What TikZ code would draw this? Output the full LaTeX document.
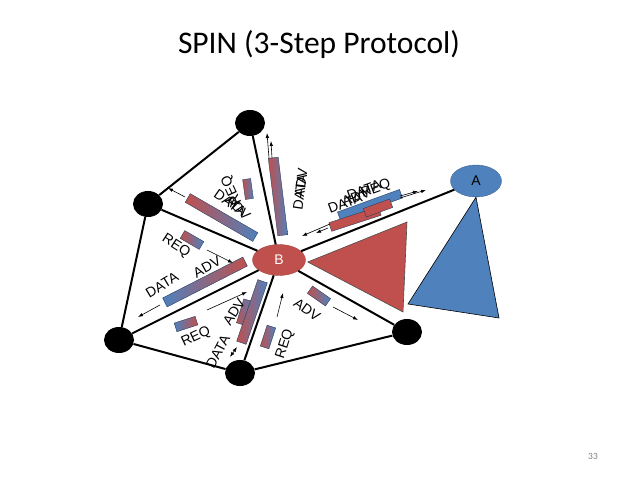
\documentclass[tikz,border=0pt]{standalone}
\usepackage{fontspec}
\setmainfont{Carlito}
\newfontfamily\arialfont{Liberation Sans}
\usetikzlibrary{positioning, shapes, arrows.meta}

\definecolor{spinred}{HTML}{C0504D}
\definecolor{spinblue}{HTML}{4F81BD}

\tikzset{
  sensor/.style={ellipse, fill=black, minimum width=30pt, minimum height=26pt, inner sep=0pt},
  hub/.style={ellipse, minimum width=53pt, minimum height=31pt, inner sep=0pt, font=\arialfont\fontsize{14}{14}\selectfont},
  link/.style={line width=2pt},
  msgbar/.style={rectangle, draw=spinblue!50!black, line width=0.4pt, inner sep=0pt, minimum height=9pt, left color=spinred, right color=spinblue},
  revbar/.style={msgbar, left color=spinblue, right color=spinred},
  pkt/.style={rectangle, draw=spinblue!50!black, line width=0.4pt, inner sep=0pt, minimum height=9pt},
  msg/.style={font=\arialfont\fontsize{14}{14}\selectfont, inner sep=0pt},
  flow/.style={-{Latex[length=5pt,width=3.5pt]}, line width=0.6pt}
}

\begin{document}
\begin{tikzpicture}[x=1pt,y=-1pt]

\useasboundingbox (0,0) rectangle (638,478);

\node (title) at (319,54) [anchor=base, font=\fontsize{31.5}{31.5}\selectfont] {SPIN (3-Step Protocol)};
\node (pageno) at (593,460) [anchor=base, text=gray, font=\fontsize{9.5}{9.5}\selectfont] {33};

% nodes
\node (top) at (250,123) [sensor] {};
\node (nw) at (148,204) [sensor] {};
\node (sw) at (119,340) [sensor] {};
\node (bot) at (240,373) [sensor] {};
\node (se) at (407,332) [sensor] {};
\node (B) at (279,260) [hub, fill=spinred, draw=spinred!85!black, text=white] {B};
\node (A) at (476,181) [hub, minimum width=51pt, minimum height=32pt, fill=spinblue, draw=spinblue!80!black] {A};

% links
\draw [link] (B) -- (top);
\draw [link] (B) -- (nw);
\draw [link] (B) -- (sw);
\draw [link] (B) -- (bot);
\draw [link] (B) -- (se);
\draw [link] (B) -- (A);
\draw [link] (top) -- (nw);
\draw [link] (nw) -- (sw);
\draw [link] (sw) -- (bot);
\draw [link] (bot) -- (se);

% triangles
\draw [fill=spinred, draw=black!70, line width=0.6pt] ([shift={(2,2)}]B.east) -- (407,222) -- (403,312) -- cycle;
\draw [fill=spinblue, draw=black, line width=0.6pt] (A.south) -- (408,304) -- (499,318) -- cycle;

% upper left
\node (datUL) at (221.5,217.5) [msgbar, minimum width=78pt, minimum height=10pt, rotate=-30] {};
\node (reqUL) at (248,189) [msgbar, minimum width=20pt, minimum height=8pt, rotate=-82] {};
\node (tDataUL) at (230,203) [msg, rotate=-35] {DATA};
\node (tAdvUL) at (238,208) [msg, rotate=-45] {ADV};
\node (tReqUL) at (232,190) [msg, rotate=115] {REQ};
\draw [flow] (185,197) -- (168,188);

% upper
\node (datT) at (278,196.5) [msgbar, minimum width=78pt, minimum height=10pt, rotate=-83] {};
\node (tDataT) at (300,192) [msg, rotate=82] {DATA};
\node (tAdvT) at (301,183) [msg, rotate=82] {ADV};
\draw [flow] (269,158) -- (267,133);
\draw [flow] (272,158) -- (271,141);

% towards A
\node (pktB1) at (370,205) [pkt, fill=spinblue, minimum width=66pt, rotate=20] {};
\node (pktR1) at (355,219) [pkt, fill=spinred, minimum width=52pt, rotate=18] {};
\node (pktR2) at (378,208) [pkt, fill=spinred, minimum width=28pt, rotate=20] {};
\node (tDataA1) at (364,190) [msg, rotate=20] {DATA};
\node (tReqA) at (376,189) [msg, rotate=20] {REQ};
\node (tAdvA) at (356,197) [msg, rotate=20] {ADV};
\node (tDataA2) at (345,203) [msg, rotate=20] {DATA};
\draw [flow] (330,224) -- (302,236);
\draw [flow] (328,228) -- (316,233);
\draw [flow] (400,198) -- (426,190);
\draw [flow] (400,196) -- (418,191);

% left
\node (reqL) at (192,240) [msgbar, minimum width=22pt, rotate=-30] {};
\node (datL) at (205,282) [revbar, minimum width=90pt, minimum height=10pt, rotate=27] {};
\node (tReqL) at (176,246) [msg, rotate=-33] {REQ};
\node (tAdvL) at (207,267) [msg, rotate=29] {ADV};
\node (tDataL) at (162,285) [msg, rotate=31] {DATA};
\draw [flow] (207,250) -- (233,263);
\draw [flow] (160,305) -- (138,317);

% lower left
\node (reqLL) at (186,324) [revbar, minimum width=22pt, rotate=18] {};
\node (ghostLL) at (244,312) [msgbar, minimum width=25pt, minimum height=8pt, rotate=-107] {};
\node (datLL) at (252,312) [msgbar, minimum width=65pt, minimum height=10pt, rotate=-109] {};
\node (tReqLL) at (196,337) [msg, rotate=25] {REQ};
\node (tAdvLL) at (234,312) [msg, rotate=58] {ADV};
\node (tDataLL) at (218,352) [msg, rotate=62] {DATA};
\draw [flow] (207,310) -- (247,292);
\draw [flow, {Latex[length=5pt,width=3.5pt]}-{Latex[length=5pt,width=3.5pt]}] (237,347) -- (230,357);

% lower right
\node (reqLR) at (268,337) [msgbar, minimum width=22pt, rotate=-108] {};
\node (advLR) at (319,296) [msgbar, minimum width=22pt, rotate=-35] {};
\node (tReqLR) at (285,344) [msg, rotate=72] {REQ};
\node (tAdvLR) at (307,310) [msg, rotate=-36] {ADV};
\draw [flow] (277,317) -- (283,293);
\draw [flow] (333,307) -- (358,320);

\end{tikzpicture}
\end{document}
